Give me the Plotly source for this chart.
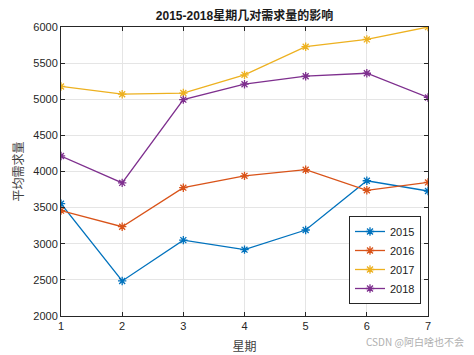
import plotly.graph_objects as go

days = [1, 2, 3, 4, 5, 6, 7]
years = ["2015", "2016", "2017", "2018"]
v2015 = [3555, 2485, 3050, 2918, 3190, 3872, 3730]
v2016 = [3458, 3236, 3776, 3940, 4025, 3740, 3849]
v2017 = [5177, 5070, 5086, 5338, 5727, 5828, 6000]
v2018 = [4215, 3842, 4995, 5208, 5319, 5360, 5025]
series = [v2015, v2016, v2017, v2018]
colors = ["#0072BD", "#D95319", "#EDB120", "#7E2F8E"]

L, R, T, B = 61, 428, 27, 316
W, H = 474, 355
pw, ph = R - L, B - T

fig = go.Figure()
for name, vals, c in zip(years, series, colors):
    fig.add_trace(go.Scatter(
        x=days, y=vals, name=name, mode="lines+markers",
        line=dict(color=c, width=1.3),
        marker=dict(symbol="asterisk-open", size=7, color=c,
                    line=dict(color=c, width=1.3)),
    ))

axis_common = dict(
    showline=True, linecolor="#262626", linewidth=1, mirror="ticks",
    ticks="inside", ticklen=4, tickcolor="#262626",
    showgrid=True, gridcolor="#E5E5E5", gridwidth=1,
    zeroline=False, automargin=False,
    tickfont=dict(family="Liberation Sans, Arial", size=11, color="#262626"),
)

fig.update_layout(
    width=W, height=H,
    margin=dict(l=L, r=W - R, t=T, b=H - B, autoexpand=False),
    paper_bgcolor="white", plot_bgcolor="white",
    title=dict(text="<b>2015-2018星期几对需求量的影响</b>", x=(L + pw / 2) / W, xanchor="center",
               y=1 - 16 / H, yanchor="middle", automargin=False,
               font=dict(family="Liberation Sans, Noto Sans CJK SC", size=12, color="#1a1a1a")),
    xaxis=dict(range=[1, 7], tickvals=days, **axis_common,
               title=dict(text="星期", standoff=11,
                          font=dict(family="Noto Sans CJK SC", size=12, color="#404040"))),
    yaxis=dict(range=[2000, 6000], dtick=500, **axis_common,
               title=dict(text="平均需求量", standoff=7,
                          font=dict(family="Noto Sans CJK SC", size=12, color="#404040"))),
    legend=dict(x=(421 - L) / pw, xanchor="right",
                y=(B - 260) / ph, yanchor="middle",
                bgcolor="white", bordercolor="#262626", borderwidth=1,
                font=dict(family="Liberation Sans, Arial", size=11, color="#1a1a1a"),
                tracegroupgap=0, itemwidth=30),
    showlegend=True,
)

fig.add_annotation(text="CSDN @阿白啥也不会", xref="paper", yref="paper",
                   x=(466 - L) / pw, y=-(341 - B) / ph,
                   xanchor="right", yanchor="middle", showarrow=False,
                   font=dict(family="Noto Sans CJK SC", size=10, color="#B0B0B0"))

fig.write_html("out.html", config={"displayModeBar": False},
               post_script="document.body.style.margin='0';document.body.style.overflow='hidden';")
